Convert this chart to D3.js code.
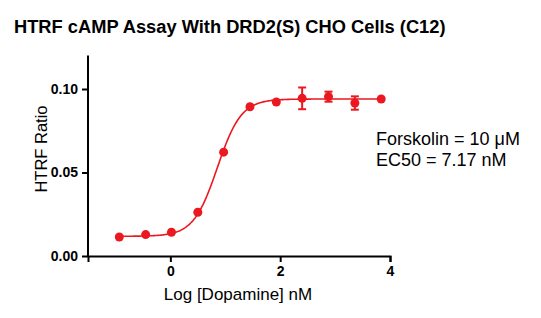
<!DOCTYPE html>
<html>
<head>
<meta charset="utf-8">
<script src="https://cdn.jsdelivr.net/npm/d3@7"></script>
<style>
  body { margin: 0; background: #fff; }
  text { font-family: "Liberation Sans", Arial, sans-serif; }
</style>
</head>
<body>
<div id="chart"></div>
<script>
// log [dopamine] nM, mean ratio and SEM
var logDose = [-0.93, -0.45, 0.02, 0.5, 0.97, 1.45, 1.93, 2.4, 2.88, 3.36, 3.84];
var ratio   = [0.0114, 0.0128, 0.0142, 0.0262, 0.0622, 0.0894, 0.0922, 0.0944, 0.0954, 0.0916, 0.0940];
var sem     = [0, 0, 0, 0, 0, 0, 0, 0.0065, 0.003, 0.004, 0];

// 4PL fit parameters
var fitBottom = 0.0118, fitTop = 0.0940, logEC50 = 0.8555, hillSlope = 2.0;

var xTicks = [0, 2, 4];
var yTicks = [0, 0.05, 0.10];

var width = 541, height = 318;
var red = "#ec1820";

var svg = d3.select("#chart").append("svg")
  .attr("width", width)
  .attr("height", height);

var x = d3.scaleLinear().domain([-1.5, 4]).range([88, 390]);
var y = d3.scaleLinear().domain([0, 0.10]).range([256, 89]);

// title
svg.append("text")
  .attr("x", 14).attr("y", 33)
  .style("font-size", "18.3px")
  .style("font-weight", "bold")
  .text("HTRF cAMP Assay With DRD2(S) CHO Cells (C12)");

// axes
var xAxis = svg.append("g")
  .attr("transform", "translate(0," + y(0) + ")")
  .call(d3.axisBottom(x).tickValues(xTicks).tickFormat(d3.format("d")).tickSizeOuter(0).tickSize(6).tickPadding(4));
var yAxis = svg.append("g")
  .attr("transform", "translate(" + x(-1.5) + ",0)")
  .call(d3.axisLeft(y).tickValues(yTicks).tickFormat(d3.format(".2f")).tickSizeOuter(0).tickSize(6).tickPadding(4));

yAxis.select(".domain").attr("d", "M0," + y(0) + "V" + y(0.12));

[xAxis, yAxis].forEach(function(a) {
  a.select(".domain").attr("stroke", "#000").attr("stroke-width", 2);
  a.selectAll(".tick line").attr("stroke", "#000").attr("stroke-width", 2);
  a.selectAll(".tick text")
    .style("font-family", "'Liberation Sans', Arial, sans-serif")
    .style("font-size", "14px")
    .style("font-weight", "bold")
    .attr("fill", "#000");
});

// axis titles
svg.append("text")
  .attr("x", 238).attr("y", 300)
  .attr("text-anchor", "middle")
  .style("font-size", "17px")
  .text("Log [Dopamine] nM");

svg.append("text")
  .attr("transform", "translate(46.5,149) rotate(-90)")
  .attr("text-anchor", "middle")
  .style("font-size", "16.5px")
  .text("HTRF Ratio");

// fitted curve
var curveX = d3.range(logDose[0], logDose[logDose.length - 1] + 0.001, 0.02);
var fit = function(lx) { return fitBottom + (fitTop - fitBottom) / (1 + Math.pow(10, (logEC50 - lx) * hillSlope)); };

svg.append("path")
  .datum(curveX)
  .attr("fill", "none")
  .attr("stroke", red)
  .attr("stroke-width", 1.6)
  .attr("d", d3.line().x(function(d) { return x(d); }).y(function(d) { return y(fit(d)); }));

var pts = logDose.map(function(d, i) { return {x: d, y: ratio[i], e: sem[i]}; });

// error bars
var eb = svg.append("g").attr("stroke", red).attr("stroke-width", 2);
pts.filter(function(d) { return d.e > 0; }).forEach(function(d) {
  eb.append("line").attr("x1", x(d.x)).attr("x2", x(d.x)).attr("y1", y(d.y - d.e)).attr("y2", y(d.y + d.e));
  eb.append("line").attr("x1", x(d.x) - 4).attr("x2", x(d.x) + 4).attr("y1", y(d.y - d.e)).attr("y2", y(d.y - d.e));
  eb.append("line").attr("x1", x(d.x) - 4).attr("x2", x(d.x) + 4).attr("y1", y(d.y + d.e)).attr("y2", y(d.y + d.e));
});

svg.append("g").selectAll("circle")
  .data(pts)
  .enter().append("circle")
  .attr("cx", function(d) { return x(d.x); })
  .attr("cy", function(d) { return y(d.y); })
  .attr("r", 4.5)
  .attr("fill", red);

// annotation
svg.append("text").attr("x", 376).attr("y", 145).style("font-size", "18px").text("Forskolin = 10 \u03bcM");
svg.append("text").attr("x", 376).attr("y", 166).style("font-size", "18px").text("EC50 = 7.17 nM");
</script>
</body>
</html>
